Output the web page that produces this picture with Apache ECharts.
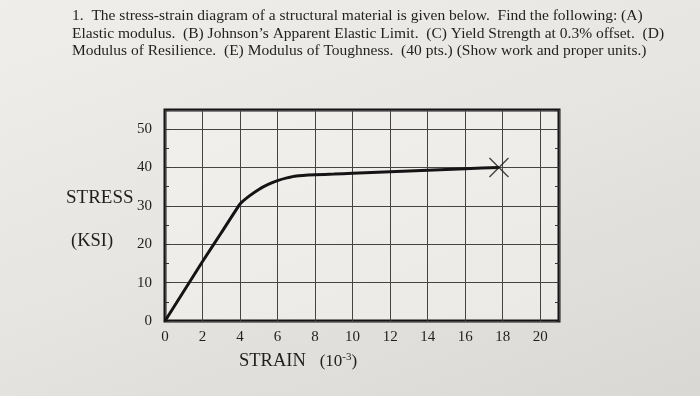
<!DOCTYPE html>
<html><head><meta charset="utf-8">
<script src="https://cdn.jsdelivr.net/npm/echarts@6/dist/echarts.min.js"></script>
<style>
html,body{margin:0;padding:0;}
body{width:700px;height:396px;background:linear-gradient(160deg,#efeeea 0%,#e7e6e2 45%,#d9d8d4 100%);}
#c{width:700px;height:396px;}
</style></head>
<body><div id="c"></div>
<script>
const questionLines = [
  "1.  The stress-strain diagram of a structural material is given below.  Find the following: (A)",
  "Elastic modulus.  (B) Johnson\u2019s Apparent Elastic Limit.  (C) Yield Strength at 0.3% offset.  (D)",
  "Modulus of Resilience.  (E) Modulus of Toughness.  (40 pts.) (Show work and proper units.)"
];
const strainValues = [0, 2, 3, 4, 4.5, 5, 5.5, 6, 6.5, 7, 8, 9, 10, 12, 14, 16, 17.8];
const stressValues = [0, 15.5, 23, 30.5, 32.6, 34.3, 35.6, 36.6, 37.3, 37.8, 38.1, 38.3, 38.5, 38.9, 39.3, 39.7, 40];
const fracturePoint = [17.8, 40];
const xTicks = [0, 2, 4, 6, 8, 10, 12, 14, 16, 18, 20];
const yTicks = [0, 10, 20, 30, 40, 50];
const yAxisName = ["STRESS", "(KSI)"];
const xAxisName = "STRAIN";

const serif = "'Liberation Serif','DejaVu Serif',serif";
const ink = '#1f1f1f';

const chart = echarts.init(document.getElementById('c'));
const curve = strainValues.map((x, i) => [x, stressValues[i]]);

chart.setOption({
  backgroundColor: 'transparent',
  animation: false,
  grid: {left: 165, top: 110, width: 394, height: 211, show: true,
         borderColor: '#141414', borderWidth: 3, backgroundColor: 'rgba(245,244,241,0.55)'},
  xAxis: [{
    type: 'value', min: 0, max: 21, interval: 2,
    axisLine: {show: false}, axisTick: {show: false},
    axisLabel: {showMaxLabel: false, margin: 9, color: ink, fontFamily: serif, fontSize: 15,
                formatter: v => xTicks.includes(v) ? String(v) : ''},
    splitLine: {show: true, lineStyle: {color: '#444', width: 1}}
  }],
  yAxis: [{
    type: 'value', min: 0, max: 55, interval: 10,
    axisLine: {show: false}, axisTick: {show: false},
    axisLabel: {showMaxLabel: false, margin: 13, color: ink, fontFamily: serif, fontSize: 15,
                formatter: v => yTicks.includes(v) ? String(v) : ''},
    splitLine: {show: true, lineStyle: {color: '#444', width: 1}}
  }, {
    type: 'value', min: 0, max: 55, interval: 5, position: 'left',
    axisLine: {show: false}, axisLabel: {show: false}, splitLine: {show: false},
    axisTick: {show: true, inside: true, length: 4, lineStyle: {color: '#333', width: 1}}
  }, {
    type: 'value', min: 0, max: 55, interval: 5, position: 'right',
    axisLine: {show: false}, axisLabel: {show: false}, splitLine: {show: false},
    axisTick: {show: true, inside: true, length: 4, lineStyle: {color: '#333', width: 1}}
  }],
  series: [{
    type: 'line', data: curve, showSymbol: false, smooth: 0.1,
    lineStyle: {color: '#141414', width: 3}, z: 5
  }, {
    type: 'scatter', data: [fracturePoint],
    symbol: 'path://M0,0L10,10M10,0L0,10', symbolSize: 19,
    itemStyle: {color: 'none', borderColor: '#1a1a1a', borderWidth: 1.4}, z: 6
  }],
  graphic: [
    ...questionLines.map((t, i) => ({
      type: 'text', left: 72, top: 8 + i * 17.5,
      style: {text: t, font: "15.5px " + serif, fill: ink}
    })),
    {type: 'text', left: 66, top: 189, style: {text: yAxisName[0], font: "19px " + serif, fill: ink}},
    {type: 'text', left: 71, top: 232, style: {text: yAxisName[1], font: "18.5px " + serif, fill: ink}},
    {type: 'text', left: 239, top: 352, style: {
      text: xAxisName + '   {n|(10}{s|-3}{n|)}', font: "18.5px " + serif, fill: ink,
      rich: {n: {font: "17px " + serif, fill: ink}, s: {font: "11px " + serif, fill: ink, verticalAlign: 'top', padding: [0,0,7,0]}}
    }}
  ]
});
</script>
</body></html>
